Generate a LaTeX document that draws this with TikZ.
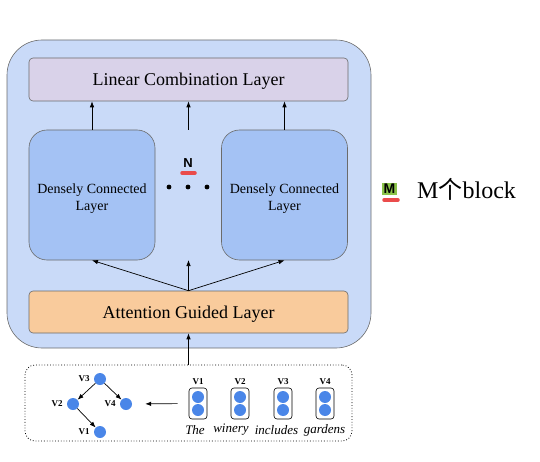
\documentclass[tikz,border=0pt]{standalone}
\usepackage{fontspec}
\setmainfont{LiberationSerif}[Extension=.ttf,UprightFont=*-Regular,BoldFont=*-Bold,ItalicFont=*-Italic,BoldItalicFont=*-BoldItalic]
\newfontfamily\cjk{Noto Sans CJK SC}
\newfontfamily\sansfont{Liberation Sans}
\usetikzlibrary{positioning,backgrounds,arrows.meta}
\definecolor{outerblue}{HTML}{C9DAF8}
\definecolor{denseblue}{HTML}{A4C2F4}
\definecolor{lcpurple}{HTML}{D9D2E9}
\definecolor{attorange}{HTML}{F9CB9C}
\definecolor{dotblue}{HTML}{4A86E8}
\definecolor{markred}{HTML}{EA4B4B}
\definecolor{markgreen}{HTML}{8BC34A}
\definecolor{edgegray}{HTML}{6B6B6B}

\begin{document}
\begin{tikzpicture}[x=1pt,y=-1pt,
		layerbox/.style={draw=edgegray,line width=0.6pt,rounded corners=4pt,minimum width=319pt,minimum height=42pt,inner sep=0pt,text depth=0pt,font=\fontsize{18}{20}\selectfont},
		densebox/.style={draw=edgegray,line width=0.6pt,fill=denseblue,rounded corners=18pt,minimum width=126pt,minimum height=130pt},
		densetext/.style={align=center,yshift=-3.5pt,font=\fontsize{14}{17}\selectfont},
		wnode/.style={circle,fill=dotblue,minimum size=12pt,inner sep=0pt},
		tokbox/.style={draw,line width=0.6pt,rounded corners=3pt,minimum width=18pt,minimum height=31pt,inner sep=0pt},
		vlab/.style={font=\fontsize{9}{9}\selectfont\bfseries,inner sep=1pt},
		word/.style={font=\fontsize{13}{13}\selectfont\itshape},
		flow/.style={-{Latex[length=6pt,width=4.5pt]},line width=0.7pt},
		redmark/.style={markred,line width=3.5pt,line cap=round}]
		\useasboundingbox (0,0) rectangle (540,462);
		
		\node(outer) at (189,194) [draw=edgegray,line width=0.6pt,fill=outerblue,rounded corners=35pt,minimum width=364pt,minimum height=308pt] {};
		
		\node(lc) at (188.5,79.5) [layerbox,fill=lcpurple,minimum height=43pt] {Linear Combination Layer};
		\node(dl) at (92,195) [densebox,label={[densetext]center:Densely Connected\\Layer}] {};
		\node(dr) at (284.5,195) [densebox,label={[densetext]center:Densely Connected\\Layer}] {};
		\node(att) at (188.5,312) [layerbox,fill=attorange] {Attention Guided Layer};
		
		\node(nlab) at (188,163) [font=\sansfont\bfseries\fontsize{13}{13}\selectfont,inner sep=0pt] {N};
		\draw[redmark] (182,173) -- (195,173);
		\foreach \x in {169,188,207}
			\fill (\x,187) circle (2.4pt);
		
		\coordinate (midtop) at (188.5,130);
		\coordinate (midbot) at (188.5,260);
		\draw[flow] (dl.north) -- (dl.north |- lc.south);
		\draw[flow] (midtop) -- (lc.south);
		\draw[flow] (dr.north) -- (dr.north |- lc.south);
		\draw[flow] (att.north) -- (dl.south);
		\draw[flow] (att.north) -- (midbot);
		\draw[flow] (att.north) -- (dr.south);
		
		\node(inp) at (188.5,403) [draw,dotted,line width=0.8pt,rounded corners=10pt,minimum width=327pt,minimum height=76pt] {};
		\draw[flow] (inp.north) -- (att.south);
		
		\node(g3) at (100,379) [wnode,label={[vlab,xshift=-3pt]left:V3}] {};
		\node(g2) at (73,404) [wnode,label={[vlab,xshift=-3pt]left:V2}] {};
		\node(g4) at (126,404) [wnode,label={[vlab,xshift=-3pt]left:V4}] {};
		\node(g1) at (100,432) [wnode,label={[vlab,xshift=-3pt]left:V1}] {};
		\draw[flow] (g3) -- (g2);
		\draw[flow] (g3) -- (g4);
		\draw[flow] (g2) -- (g1);
		
		\foreach \i/\x in {1/198,2/240,3/283,4/325} {
			\node(t\i) at (\x,403.5) [tokbox,label={[vlab,yshift=2pt]above:V\i}] {};
			\node[wnode] at (\x,397) {};
			\node[wnode] at (\x,410) {};
		}
		\draw[flow,shorten <=11pt,shorten >=13pt] (t1.west) -- (g4.east);
		
		\node(w1) at (195,430) [word] {The};
		\node(w2) at (231,430) [word] {winery};
		\node(w3) at (276.5,430) [word] {includes};
		\node(w4) at (324.5,430) [word] {gardens};
		
		\node(mlab) at (389.5,189) [fill=markgreen,inner sep=1.5pt,font=\sansfont\bfseries\fontsize{14}{14}\selectfont] {M};
		\draw[redmark] (384,200) -- (398,200);
		\node(mtext) [right=20pt of mlab,inner sep=0pt,font=\fontsize{24}{24}\selectfont] {M{\cjk 个}block};
		
		\end{tikzpicture}
\end{document}
